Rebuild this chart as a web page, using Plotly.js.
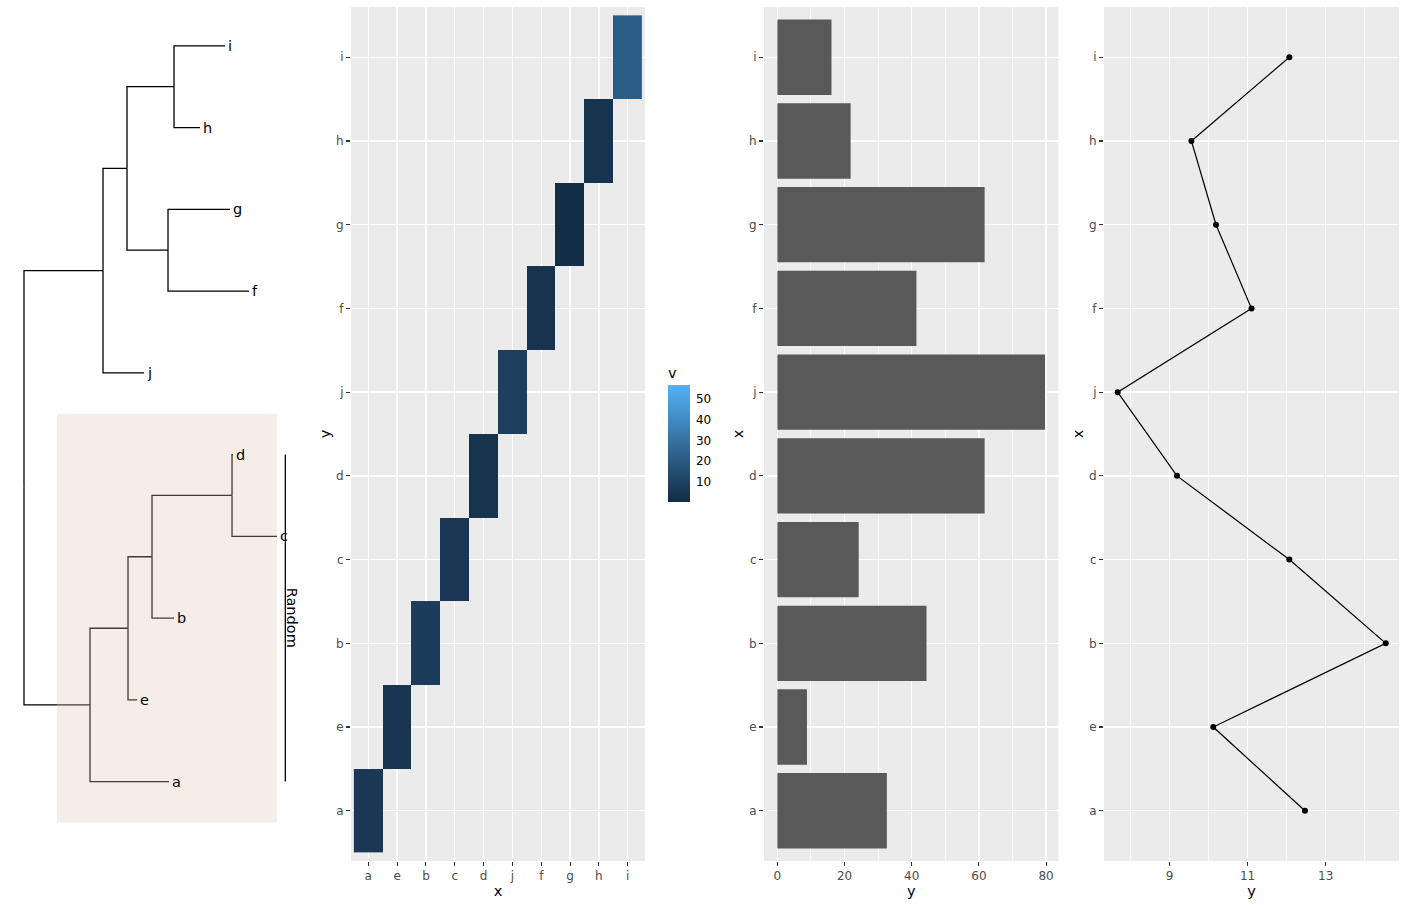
<!DOCTYPE html>
<html>
<head>
<meta charset="utf-8">
<script src="https://cdn.plot.ly/plotly-3.0.1.min.js"></script>
<style>
  html, body { margin: 0; padding: 0; background: #ffffff; }
  #chart { width: 1406px; height: 905px; }
</style>
</head>
<body>
<div id="chart"></div>
<script>
const FONT_FAMILY = "DejaVu Sans, Liberation Sans, sans-serif";
const COLORS = {
  panel: "#EBEBEB",
  grid: "#FFFFFF",
  tickText: "#4D4D4D",
  tick: "#333333",
  bar: "#595959",
  low: "#132B43",
  high: "#56B1F7",
  hilight: "rgba(222,198,178,0.3)",
};
const W = 1406;
const H = 905;

// tip order, bottom to top (shared by every panel)
const tipOrder = ["a", "e", "b", "c", "d", "j", "f", "g", "h", "i"];

// tree edges
const edgeParent = ["root", "U1", "U2", "U3", "U3", "U2", "U4", "U4", "U1",
  "root", "L1", "L1", "L2", "L2", "L3", "L3", "L4", "L4"];
const edgeChild = ["U1", "U2", "U3", "i", "h", "U4", "g", "f", "j",
  "L1", "a", "L2", "e", "L3", "b", "L4", "d", "c"];
const edgeLength = [0.79, 0.24, 0.47, 0.51, 0.26, 0.41, 0.62, 0.81, 0.41,
  0.66, 0.79, 0.38, 0.09, 0.24, 0.22, 0.80, 0.01, 0.45];
const hilightNode = "L1";
const hilightLabel = "Random";

// heatmap tiles
const heatX = ["a", "e", "b", "c", "d", "j", "f", "g", "h", "i"];
const heatY = ["a", "e", "b", "c", "d", "j", "f", "g", "h", "i"];
const heatV = [6.0, 4.9, 7.4, 5.4, 3.7, 8.8, 3.7, 1.5, 4.0, 21.2];
const heatLimits = [0.34, 56.7];
const heatTicks = [10, 20, 30, 40, 50];

// bar panel
const barCat = ["a", "e", "b", "c", "d", "j", "f", "g", "h", "i"];
const barVal = [32.6, 8.8, 44.4, 24.2, 61.7, 79.7, 41.4, 61.7, 21.8, 16.1];

// point / line panel
const lineCat = ["a", "e", "b", "c", "d", "j", "f", "g", "h", "i"];
const lineVal = [12.47, 10.12, 14.54, 12.07, 9.19, 7.67, 11.10, 10.19, 9.56, 12.07];

function domX(a, b) { return [a / W, b / W]; }
function domY(top, bottom) { return [1 - bottom / H, 1 - top / H]; }

function layoutTree() {
  const children = {};
  const length = {};
  edgeChild.forEach((c, i) => {
    (children[edgeParent[i]] = children[edgeParent[i]] || []).push(c);
    length[c] = edgeLength[i];
  });
  const pos = {};
  function place(node, depth) {
    const kids = children[node] || [];
    if (!kids.length) {
      pos[node] = { x: depth, y: tipOrder.indexOf(node) + 1 };
      return pos[node];
    }
    const ys = kids.map((k) => place(k, depth + length[k]).y);
    pos[node] = { x: depth, y: ys.reduce((s, v) => s + v, 0) / ys.length };
    return pos[node];
  }
  place("root", 0);
  return { pos, children, length };
}

function cladeTips(tree, node) {
  const kids = tree.children[node] || [];
  if (!kids.length) return [node];
  return kids.flatMap((k) => cladeTips(tree, k));
}

function treeTrace(tree) {
  const xs = [];
  const ys = [];
  edgeChild.forEach((c, i) => {
    const p = tree.pos[edgeParent[i]];
    const q = tree.pos[c];
    xs.push(p.x, p.x, q.x, null);
    ys.push(p.y, q.y, q.y, null);
  });
  return {
    x: xs, y: ys, xaxis: "x", yaxis: "y",
    mode: "lines", line: { color: "#000000", width: 1.3 },
    hoverinfo: "skip", showlegend: false,
  };
}

function tipLabels(tree) {
  return tipOrder.map((t) => ({
    xref: "x", yref: "y", x: tree.pos[t].x, y: tree.pos[t].y,
    text: t, showarrow: false, xanchor: "left", yanchor: "middle", xshift: 1,
    font: { family: FONT_FAMILY, size: 14.5, color: "#000000" },
  }));
}

function heatTrace() {
  const z = tipOrder.map(() => tipOrder.map(() => null));
  heatV.forEach((v, i) => {
    z[tipOrder.indexOf(heatY[i])][tipOrder.indexOf(heatX[i])] = v;
  });
  return {
    type: "heatmap", x: tipOrder, y: tipOrder, z,
    xaxis: "x2", yaxis: "y2",
    zmin: heatLimits[0], zmax: heatLimits[1],
    colorscale: [[0, COLORS.low], [1, COLORS.high]],
    xgap: 0, ygap: 0, hoverongaps: false,
    colorbar: {
      x: 668 / W, xanchor: "left", xpad: 0,
      y: 1 - 364 / H, yanchor: "top", ypad: 0,
      len: 138, lenmode: "pixels", thickness: 22,
      outlinewidth: 0,
      tickvals: heatTicks, ticks: "outside", ticklen: 4,
      tickcolor: "rgba(0,0,0,0)", tickwidth: 1,
      tickfont: { family: FONT_FAMILY, size: 12, color: "#000000" },
      title: { text: "v", side: "top", font: { family: FONT_FAMILY, size: 14.5, color: "#000000" } },
    },
  };
}

function catAxis(domain, title, standoff, extra) {
  return Object.assign({
    domain, type: "category", categoryorder: "array", categoryarray: tipOrder,
    range: [-0.6, 9.6], showgrid: true, gridcolor: COLORS.grid, gridwidth: 1.4,
    zeroline: false, ticks: "outside", ticklen: 4, tickwidth: 1.1, tickcolor: COLORS.tick,
    tickfont: { family: FONT_FAMILY, size: 12, color: COLORS.tickText },
    title: { text: title, font: { family: FONT_FAMILY, size: 14.5, color: "#000000" }, standoff },
    fixedrange: true,
  }, extra || {});
}

function numAxis(domain, title, range, dtick, tick0, minorDtick, extra) {
  return Object.assign({
    domain, range, dtick, tick0, showgrid: true, gridcolor: COLORS.grid, gridwidth: 1.4,
    minor: { dtick: minorDtick, tick0, showgrid: true, gridcolor: COLORS.grid, gridwidth: 0.7 },
    zeroline: false, ticks: "outside", ticklen: 4, tickwidth: 1.1, tickcolor: COLORS.tick,
    tickfont: { family: FONT_FAMILY, size: 12, color: COLORS.tickText },
    title: { text: title, font: { family: FONT_FAMILY, size: 14.5, color: "#000000" }, standoff: 3 },
    fixedrange: true,
  }, extra || {});
}

function panelRect(ax) {
  return {
    type: "rect", xref: ax + " domain", yref: ax.replace("x", "y") + " domain",
    x0: 0, x1: 1, y0: 0, y1: 1, fillcolor: COLORS.panel, line: { width: 0 }, layer: "below",
  };
}

const tree = layoutTree();
const clade = cladeTips(tree, hilightNode);
const cladeYs = clade.map((t) => tree.pos[t].y);
const cladeMaxX = Math.max(...clade.map((t) => tree.pos[t].x));
const barX = cladeMaxX + 0.083;

const traces = [
  treeTrace(tree),
  {
    x: [barX, barX], y: [Math.min(...cladeYs), Math.max(...cladeYs)],
    xaxis: "x", yaxis: "y", mode: "lines",
    line: { color: "#000000", width: 1.3 }, hoverinfo: "skip", showlegend: false,
  },
  heatTrace(),
  {
    type: "bar", orientation: "h", x: barVal, y: barCat, width: 0.9,
    xaxis: "x3", yaxis: "y3", marker: { color: COLORS.bar, line: { width: 0 } },
    showlegend: false,
  },
  {
    type: "scatter", mode: "lines+markers", x: lineVal, y: lineCat,
    xaxis: "x4", yaxis: "y4",
    line: { color: "#000000", width: 1.2 },
    marker: { color: "#000000", size: 6 },
    showlegend: false,
  },
];

const yDom = domY(7, 861);
const layout = {
  width: W, height: H,
  margin: { l: 0, r: 0, t: 0, b: 0 },
  paper_bgcolor: "#FFFFFF",
  plot_bgcolor: "rgba(0,0,0,0)",
  font: { family: FONT_FAMILY, color: "#000000" },
  showlegend: false,
  xaxis: { domain: [0, 0.22], range: [-0.24, 2.853], visible: false, fixedrange: true },
  yaxis: { domain: [0, 1], range: [-0.51, 10.56], visible: false, fixedrange: true },
  xaxis2: catAxis(domX(351, 645), "x", 3, { anchor: "y2" }),
  yaxis2: catAxis(yDom, "y", 1, { anchor: "x2" }),
  xaxis3: numAxis(domX(764, 1058.5), "y", [-3.99, 83.7], 20, 0, 10, { anchor: "y3" }),
  yaxis3: catAxis(yDom, "x", 1, { anchor: "x3" }),
  xaxis4: numAxis(domX(1104, 1399), "y", [7.32, 14.88], 2, 9, 1, { anchor: "y4" }),
  yaxis4: catAxis(yDom, "x", 1, { anchor: "x4" }),
  shapes: [
    panelRect("x2"), panelRect("x3"), panelRect("x4"),
    {
      type: "rect", xref: "x", yref: "y",
      x0: tree.pos[hilightNode].x - tree.length[hilightNode] / 2, x1: cladeMaxX,
      y0: Math.min(...cladeYs) - 0.5, y1: Math.max(...cladeYs) + 0.5,
      fillcolor: COLORS.hilight, line: { width: 0 }, layer: "above",
    },
  ],
  annotations: [
    ...tipLabels(tree),
    {
      xref: "x", yref: "y", x: barX, y: (Math.min(...cladeYs) + Math.max(...cladeYs)) / 2,
      text: hilightLabel, textangle: 90, showarrow: false, xshift: 7,
      xanchor: "center", yanchor: "middle",
      font: { family: FONT_FAMILY, size: 14.5, color: "#000000" },
    },
  ],
};

Plotly.newPlot("chart", traces, layout, { displayModeBar: false, staticPlot: true });
</script>
</body>
</html>
